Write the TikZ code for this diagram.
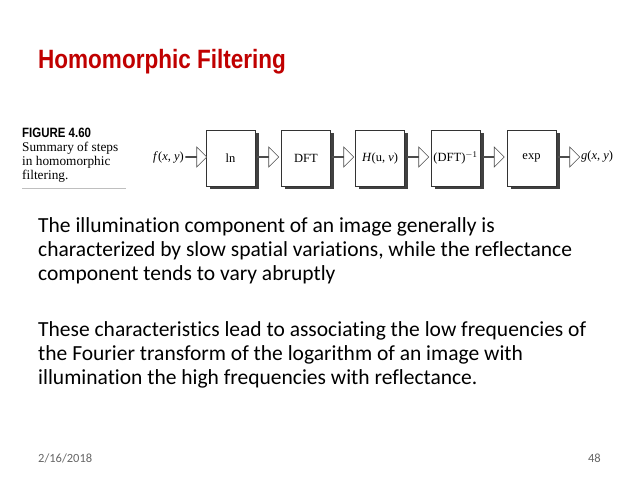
\documentclass[tikz,border=0pt]{standalone}
\usepackage{fontspec}
\setmainfont{Liberation Serif}
\newfontfamily\calfnt[RawFeature=-liga]{Carlito}
\newfontfamily\hdfnt{Liberation Sans}
\usetikzlibrary{shapes.arrows}
\definecolor{titlered}{RGB}{192,0,0}
\begin{document}
\begin{tikzpicture}[x=1pt,y=-1pt,
  blk/.style={draw=black!80,fill=white,minimum width=49pt,minimum height=56pt,inner sep=0pt,font=\fontsize{12.5}{13}\selectfont},
  shd/.style={fill=black!75,minimum width=49pt,minimum height=56pt,inner sep=0pt},
  harr/.style={single arrow,draw=black!70,fill=white,minimum height=21pt,minimum width=20pt,single arrow head extend=6pt,single arrow head indent=0pt,inner sep=0pt,line width=0.6pt},
  body/.style={anchor=west,font=\calfnt\fontsize{21.5}{24}\selectfont,inner sep=0pt}]
\useasboundingbox (0,0) rectangle (638,478);
\node[anchor=west,text=titlered,inner sep=0pt,font=\hdfnt\bfseries\fontsize{26.5}{28}\selectfont,xscale=0.85,transform shape] (title) at (38,62) {Homomorphic Filtering};
\node[anchor=west,inner sep=0pt,font=\hdfnt\bfseries\fontsize{13.5}{14}\selectfont,xscale=0.85,transform shape] (fig) at (22,133) {FIGURE 4.60};
\node[anchor=north west,inner sep=0pt,align=left,font=\fontsize{13.3}{14}\selectfont] (cap) at (22,142) {Summary of steps\\in homomorphic\\filtering.};
\draw[black!25] (22,188) -- (126,188);
\foreach \n/\x/\t in {b1/230.5/ln,b2/306/DFT,b3/380/{\textit{H}(u, \textit{v})},b4/455.5/{(DFT)\textsuperscript{$-$1}},b5/531.5/exp}{
  \node[shd] at (\x+3.5,161.5) {};
  \node[blk] (\n) at (\x,158) {\t};
}
\node[anchor=east,inner sep=1pt,font=\fontsize{12.5}{13}\selectfont] (f) at (185,157) {\textit{f}(\textit{x}, \textit{y})};
\node[anchor=west,inner sep=1pt,font=\fontsize{12.5}{13}\selectfont] (g) at (580,157) {\textit{g}(\textit{x}, \textit{y})};
\node[harr] at (196,157) {};
\node[harr] at (268,157) {};
\node[harr] at (343,157) {};
\node[harr] at (418,157) {};
\node[harr] at (493.5,157) {};
\node[harr] at (569,157) {};
\node[body] (t1) at (38,227) {The illumination component of an image generally is};
\node[body] (t2) at (38,251) {characterized by slow spatial variations, while the reflectance};
\node[body] (t3) at (38,275) {component tends to vary abruptly};
\node[body] (t4) at (38,331) {These characteristics lead to associating the low frequencies of};
\node[body] (t5) at (38,355) {the Fourier transform of the logarithm of an image with};
\node[body] (t6) at (38,379) {illumination the high frequencies with reflectance.};
\node[anchor=west,inner sep=0pt,text=black!60,font=\calfnt\fontsize{12.5}{14}\selectfont] (d) at (38,458) {2/16/2018};
\node[anchor=east,inner sep=0pt,text=black!60,font=\calfnt\fontsize{12.5}{14}\selectfont] (p) at (601,458) {48};
\end{tikzpicture}
\end{document}
